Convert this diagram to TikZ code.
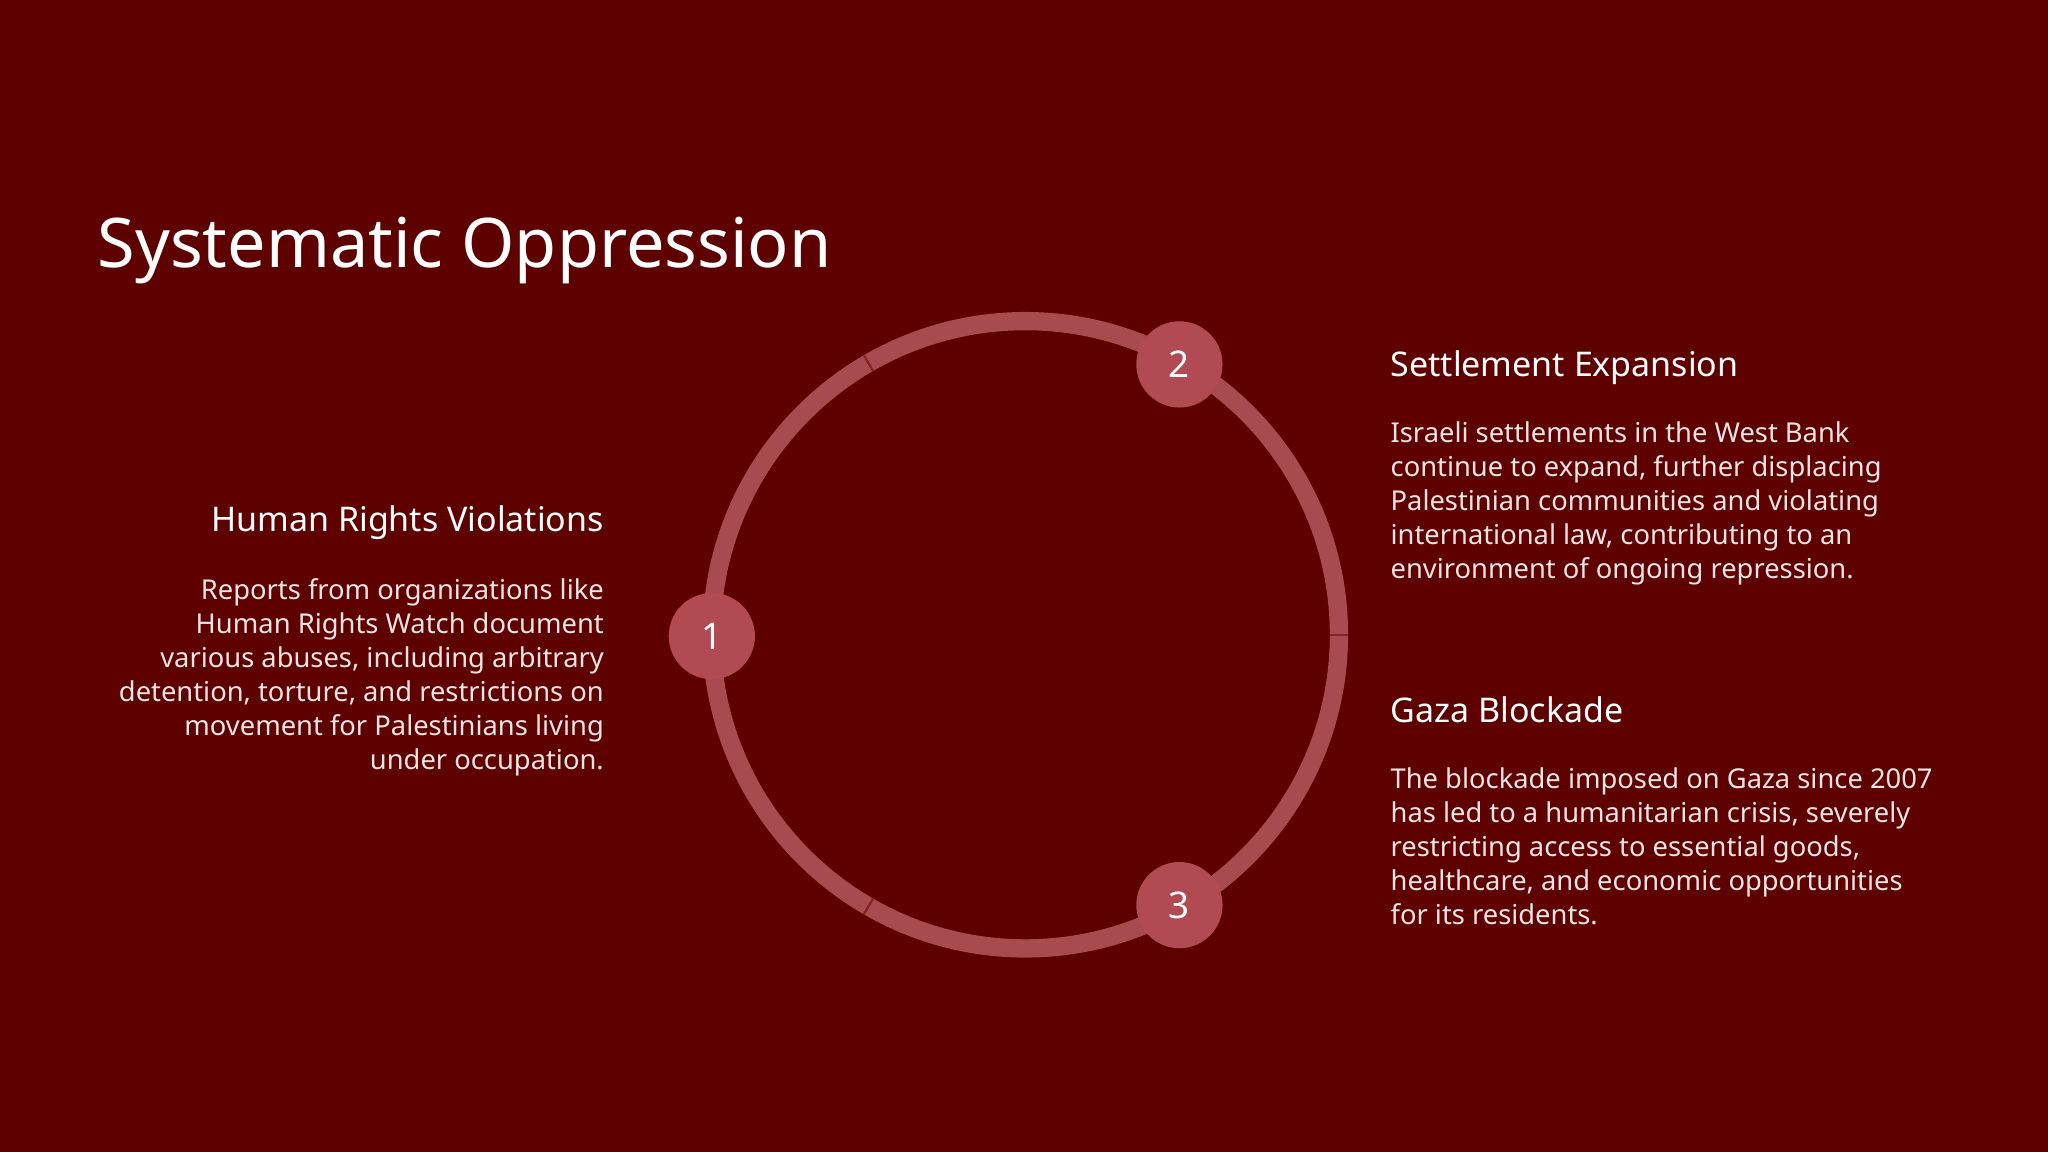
\documentclass[tikz,border=0pt]{standalone}
\usepackage{fontspec}
\setmainfont{Noto Sans}
\usetikzlibrary{calc}
\definecolor{bgred}{HTML}{5E0000}
\definecolor{ringred}{HTML}{A84B50}
\definecolor{dotred}{HTML}{B14A52}
\definecolor{bodytxt}{HTML}{F2E4E4}
\begin{document}
\begin{tikzpicture}[x=0.01cm,y=-0.01cm,
    ring/.style={draw=ringred, line width=0.14cm},
    dot/.style={shape=circle, fill=dotred, minimum size=0.66cm, inner sep=0pt,
        text=white, font=\fontsize{8pt}{9pt}\selectfont},
    headtxt/.style={text=white, font=\fontsize{7.4pt}{9pt}\selectfont, inner sep=0pt},
    bodytext/.style={text=bodytxt, font=\fontsize{5.95pt}{7.4pt}\selectfont, inner sep=0pt}]
    \fill[bgred] (0,0) rectangle (1568,882);
    \useasboundingbox (0,0) rectangle (1568,882);
    % title
    \node[text=white, font=\fontsize{14.9pt}{17pt}\selectfont, anchor=base west, inner sep=0pt]
        (title) at (74,205) {Systematic Oppression};
    % ring
    \coordinate (centre) at (785,486);
    \draw[ring] (centre) circle [radius=2.4cm];
    \foreach \ang in {0,120,240}
        \draw[bgred!50!ringred, line width=0.5pt] ($(centre)+(\ang:2.33cm)$) -- ($(centre)+(\ang:2.47cm)$);
    \node[dot] (n1) at (545,487) {1};
    \node[dot] (n2) at (903,279) {2};
    \node[dot] (n3) at (903,693) {3};
    % left block
    \node[headtxt, anchor=base east] (h1) at (463,407) {Human Rights Violations};
    \node[bodytext, anchor=north east, align=right] (b1) at (463,442)
        {Reports from organizations like\\Human Rights Watch document\\various abuses, including arbitrary\\detention, torture, and restrictions on\\movement for Palestinians living\\under occupation.};
    % right blocks
    \node[headtxt, anchor=base west] (h2) at (1064,288) {Settlement Expansion};
    \node[bodytext, anchor=north west, align=left] (b2) at (1064,322)
        {Israeli settlements in the West Bank\\continue to expand, further displacing\\Palestinian communities and violating\\international law, contributing to an\\environment of ongoing repression.};
    \node[headtxt, anchor=base west] (h3) at (1064,553) {Gaza Blockade};
    \node[bodytext, anchor=north west, align=left] (b3) at (1064,587)
        {The blockade imposed on Gaza since 2007\\has led to a humanitarian crisis, severely\\restricting access to essential goods,\\healthcare, and economic opportunities\\for its residents.};
\end{tikzpicture}
\end{document}
